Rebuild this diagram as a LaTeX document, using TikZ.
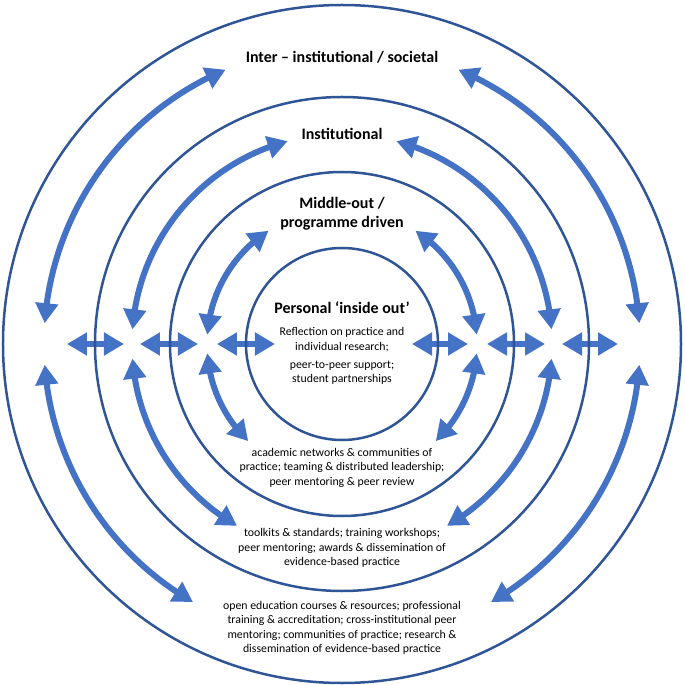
\documentclass[tikz,border=0pt]{standalone}
\usepackage{fontspec}
\setmainfont{Carlito}
\usepackage{xcolor}
\usetikzlibrary{arrows.meta, bending}

\definecolor{ringblue}{HTML}{2F5597}
\definecolor{arrowblue}{HTML}{4472C4}

\tikzset{
    ring/.style={draw=ringblue, line width=2.5pt},
    twoway/.style={arrowblue, line width=6pt,
        {Triangle[length=20pt, width=22pt, flex]}-{Triangle[length=20pt, width=22pt, flex]}},
    level/.style={font=\bfseries\fontsize{16}{19}\selectfont, align=center},
    detail/.style={font=\fontsize{11.8}{14.5}\selectfont, align=center}
}

\begin{document}
\begin{tikzpicture}[x=1pt, y=1pt]
    \useasboundingbox (-342, -341) rectangle (343, 344);

    % Curved arrows, outer ring (inter-institutional)
    \draw[twoway] (176:298) arc (176:113:298);
    \draw[twoway] (4:298) arc (4:67:298);
    \draw[twoway] (184:298) arc (184:240:298);
    \draw[twoway] (356:298) arc (356:300:298);

    % Curved arrows, institutional ring
    \draw[twoway] (176:210) arc (176:105:210);
    \draw[twoway] (4:210) arc (4:75:210);
    \draw[twoway] (184:210) arc (184:240:210);
    \draw[twoway] (356:210) arc (356:300:210);

    % Curved arrows, middle-out ring
    \draw[twoway] (176:135) arc (176:123:135);
    \draw[twoway] (4:135) arc (4:57:135);
    \draw[twoway] (184:135) arc (184:226:135);
    \draw[twoway] (356:135) arc (356:314:135);

    % Straight arrows across the rings
    \draw[twoway] (-275, 0) -- (-218, 0);
    \draw[twoway] (-202, 0) -- (-144, 0);
    \draw[twoway] (-125, 0) -- (-67, 0);
    \draw[twoway] (70, 0) -- (126, 0);
    \draw[twoway] (145, 0) -- (203, 0);
    \draw[twoway] (220, 0) -- (276, 0);

    % Rings
    \draw[ring] (0, 0) circle (339);  % Inter-institutional
    \draw[ring] (0, 0) circle (247);  % Institutional
    \draw[ring] (0, 0) circle (172);  % Middle-out
    \draw[ring] (0, 0) circle (96);   % Personal

    % Level titles
    \node (inter) at (0, 287) [level] {Inter – institutional / societal};
    \node (inst) at (0, 210) [level] {Institutional};
    \node (middle) at (0, 130) [level] {Middle-out /\\programme driven};
    \node (personal) at (0, 36) [level] {Personal ‘inside out’};

    % Level activities
    \node (personaltxt) at (0, -12) [detail] {Reflection on practice and\\individual research;\\[3.5pt]peer-to-peer support;\\student partnerships};
    \node (middletxt) at (0, -123.5) [detail] {academic networks \& communities of\\practice; teaming \& distributed leadership;\\peer mentoring \& peer review};
    \node (insttxt) at (0, -204) [detail] {toolkits \& standards; training workshops;\\peer mentoring; awards \& dissemination of\\evidence-based practice};
    \node (intertxt) at (0, -284) [detail] {open education courses \& resources; professional\\training \& accreditation; cross-institutional peer\\mentoring; communities of practice; research \&\\dissemination of evidence-based practice};
\end{tikzpicture}
\end{document}
